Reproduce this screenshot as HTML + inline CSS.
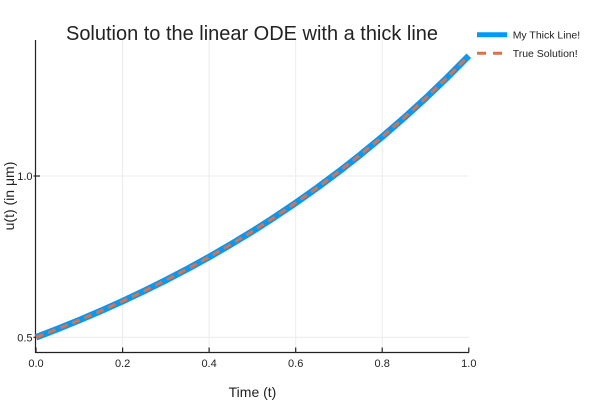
<!DOCTYPE html>
<html>
<head>
<meta charset="utf-8">
<style>
  html, body { margin: 0; padding: 0; background: #ffffff; }
  svg { display: block; }
  text { font-family: "Liberation Sans", "DejaVu Sans", sans-serif; fill: #222; }
</style>
</head>
<body>
<svg width="600" height="400" viewBox="0 0 600 400" xmlns="http://www.w3.org/2000/svg">
  <rect x="0" y="0" width="600" height="400" fill="#ffffff"/>

  <!-- grid -->
  <g stroke="#ebebeb" stroke-width="1" fill="none">
    <line x1="122.6" y1="40" x2="122.6" y2="352.5"/>
    <line x1="209.1" y1="40" x2="209.1" y2="352.5"/>
    <line x1="295.7" y1="40" x2="295.7" y2="352.5"/>
    <line x1="382.2" y1="40" x2="382.2" y2="352.5"/>
    <line x1="36" y1="176" x2="469" y2="176"/>
    <line x1="36" y1="337.3" x2="469" y2="337.3"/>
  </g>

  <!-- axes -->
  <g stroke="#222" stroke-width="1.2" fill="none">
    <line x1="35.5" y1="40" x2="35.5" y2="353"/>
    <line x1="35.5" y1="352.5" x2="469" y2="352.5"/>
    <!-- x ticks -->
    <line x1="36" y1="352.5" x2="36" y2="347.5"/>
    <line x1="122.6" y1="352.5" x2="122.6" y2="347.5"/>
    <line x1="209.1" y1="352.5" x2="209.1" y2="347.5"/>
    <line x1="295.7" y1="352.5" x2="295.7" y2="347.5"/>
    <line x1="382.2" y1="352.5" x2="382.2" y2="347.5"/>
    <line x1="468.8" y1="352.5" x2="468.8" y2="347.5"/>
    <!-- y ticks -->
    <line x1="33.5" y1="176" x2="40" y2="176"/>
    <line x1="33.5" y1="337.3" x2="40" y2="337.3"/>
  </g>

  <!-- tick labels -->
  <g font-size="11" text-anchor="middle">
    <text x="36" y="367">0.0</text>
    <text x="122.6" y="367">0.2</text>
    <text x="209.1" y="367">0.4</text>
    <text x="295.7" y="367">0.6</text>
    <text x="382.2" y="367">0.8</text>
    <text x="468.8" y="367">1.0</text>
  </g>
  <g font-size="11" text-anchor="end">
    <text x="32.5" y="180">1.0</text>
    <text x="32.5" y="341.3">0.5</text>
  </g>

  <!-- series -->
  <polyline fill="none" stroke="#009af9" stroke-width="6.5" stroke-linejoin="round" stroke-linecap="butt"
    points="36,337.3 57.64,328.94 79.28,320.16 100.92,310.92 122.56,301.19 144.2,290.97 165.84,280.22 187.48,268.9 209.12,257.01 230.76,244.49 252.4,231.33 274.04,217.48 295.68,202.93 317.32,187.6 338.96,171.51 360.6,154.55 382.24,136.75 403.88,117.98 425.52,98.29 447.16,77.54 468.8,55.73"/>
  <polyline fill="none" stroke="#e26f46" stroke-width="3" stroke-dasharray="8,5" stroke-linejoin="round"
    points="36,337.3 57.64,328.94 79.28,320.16 100.92,310.92 122.56,301.19 144.2,290.97 165.84,280.22 187.48,268.9 209.12,257.01 230.76,244.49 252.4,231.33 274.04,217.48 295.68,202.93 317.32,187.6 338.96,171.51 360.6,154.55 382.24,136.75 403.88,117.98 425.52,98.29 447.16,77.54 468.8,55.73"/>

  <!-- title -->
  <text x="252" y="40" font-size="20.5" text-anchor="middle" textLength="372" lengthAdjust="spacingAndGlyphs">Solution to the linear ODE with a thick line</text>

  <!-- axis labels -->
  <text x="252.5" y="397" font-size="14" text-anchor="middle">Time (t)</text>
  <text x="0" y="0" font-size="14" text-anchor="middle" transform="translate(14,196) rotate(-90)">u(t) (in μm)</text>

  <!-- legend -->
  <line x1="477" y1="34.7" x2="507" y2="34.7" stroke="#009af9" stroke-width="5"/>
  <text x="512.7" y="38.5" font-size="10.5">My Thick Line!</text>
  <line x1="477" y1="53.3" x2="507" y2="53.3" stroke="#e26f46" stroke-width="3" stroke-dasharray="9,7"/>
  <text x="512.7" y="57.1" font-size="10.5">True Solution!</text>
</svg>
</body>
</html>
